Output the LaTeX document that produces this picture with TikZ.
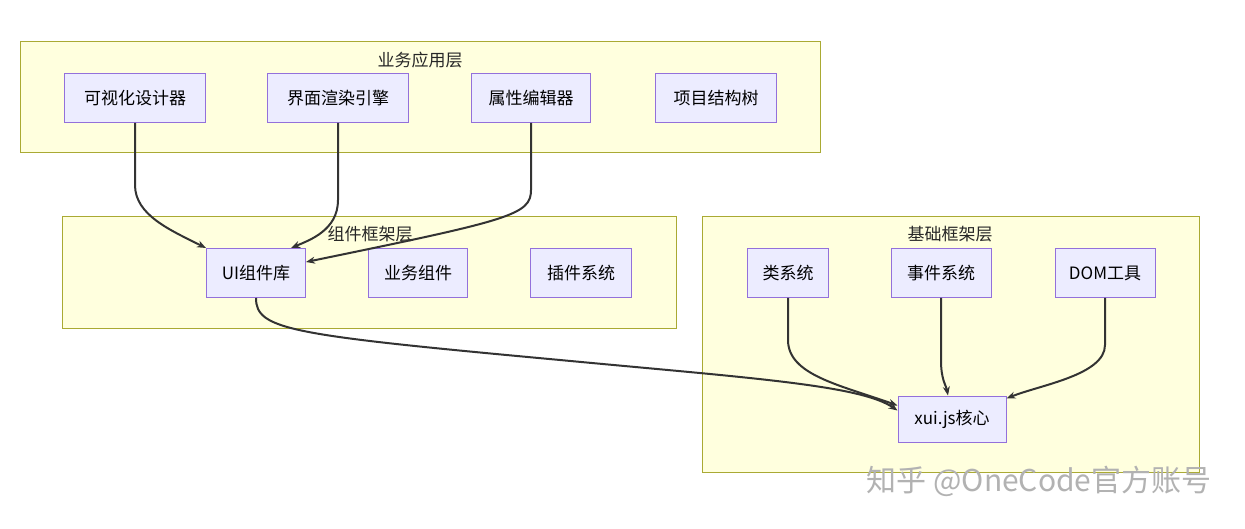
\documentclass[tikz,border=0pt]{standalone}
\usepackage{fontspec}
\setmainfont{Noto Sans CJK SC}
\usetikzlibrary{arrows.meta}
\definecolor{grpfill}{HTML}{FFFFDE}
\definecolor{grpline}{HTML}{AAAA33}
\definecolor{nfill}{HTML}{ECECFF}
\definecolor{nline}{HTML}{9370DB}
\definecolor{edge}{HTML}{333333}
\tikzset{
 grp/.style={draw=grpline,fill=grpfill,line width=1pt},
 nd/.style={draw=nline,fill=nfill,line width=1pt,minimum height=49pt,font=\fontsize{17}{20}\selectfont,inner xsep=8pt},
 gt/.style={font=\fontsize{17}{20}\selectfont,text=black!85},
 conn/.style={draw=edge,line width=2pt,-{Stealth[length=9pt,width=7pt]}}
}
\begin{document}
\begin{tikzpicture}[x=1pt,y=-1pt]
\useasboundingbox[fill=white] (0,0) rectangle (1245,529);
\draw[grp] (20,42) rectangle (820,153);
\node[gt] (g1) at (420,60) {业务应用层};
\draw[grp] (62,217) rectangle (676,329);
\node[gt] (g2) at (370,234) {组件框架层};
\draw[grp] (702,217) rectangle (1199,472);
\node[gt] (g3) at (950,234) {基础框架层};
\node[nd,minimum width=141pt] (a) at (135,98) {可视化设计器};
\node[nd,minimum width=141pt] (b) at (338,98) {界面渲染引擎};
\node[nd,minimum width=119pt] (c) at (531,98) {属性编辑器};
\node[nd,minimum width=121pt] (d) at (716,98) {项目结构树};
\node[nd,minimum width=99pt] (ui) at (256,273) {UI组件库};
\node[nd,minimum width=99pt] (bz) at (418,273) {业务组件};
\node[nd,minimum width=101pt] (cj) at (581,273) {插件系统};
\node[nd,minimum width=81pt] (lx) at (788,273) {类系统};
\node[nd,minimum width=100pt] (sj) at (941,273) {事件系统};
\node[nd,minimum width=100pt] (dom) at (1105,273) {DOM工具};
\node[nd,minimum width=108pt,minimum height=46pt] (core) at (952,419) {xui.js核心};
\draw[conn] (a.south) -- (135,185) .. controls (135,215) and (170,230) .. (ui.north west);
\draw[conn] (b.south) -- (338,200) .. controls (338,230) and (310,240) .. ([xshift=-15pt]ui.north east);
\draw[conn] (c.south) -- (531,190) .. controls (531,215) and (510,220) .. (ui.north east |- 0,262);
\draw[conn] (ui.south) .. controls (256,330) and (290,335) .. (560,360) .. controls (750,378) and (860,385) .. ([yshift=-15pt]core.north west);
\draw[conn] (lx.south) -- (788,340) .. controls (788,375) and (840,385) .. ([yshift=-10pt]core.north west);
\draw[conn] (sj.south) -- (941,360) .. controls (941,380) and (946,385) .. ([xshift=-4pt]core.north);
\draw[conn] (dom.south) -- (1105,345) .. controls (1105,375) and (1040,385) .. ([yshift=-3pt]core.north east);
\node[font=\fontsize{30}{34}\selectfont,text=black!30,anchor=east] (wm) at (1215,481) {知乎 @OneCode官方账号};
\end{tikzpicture}
\end{document}
